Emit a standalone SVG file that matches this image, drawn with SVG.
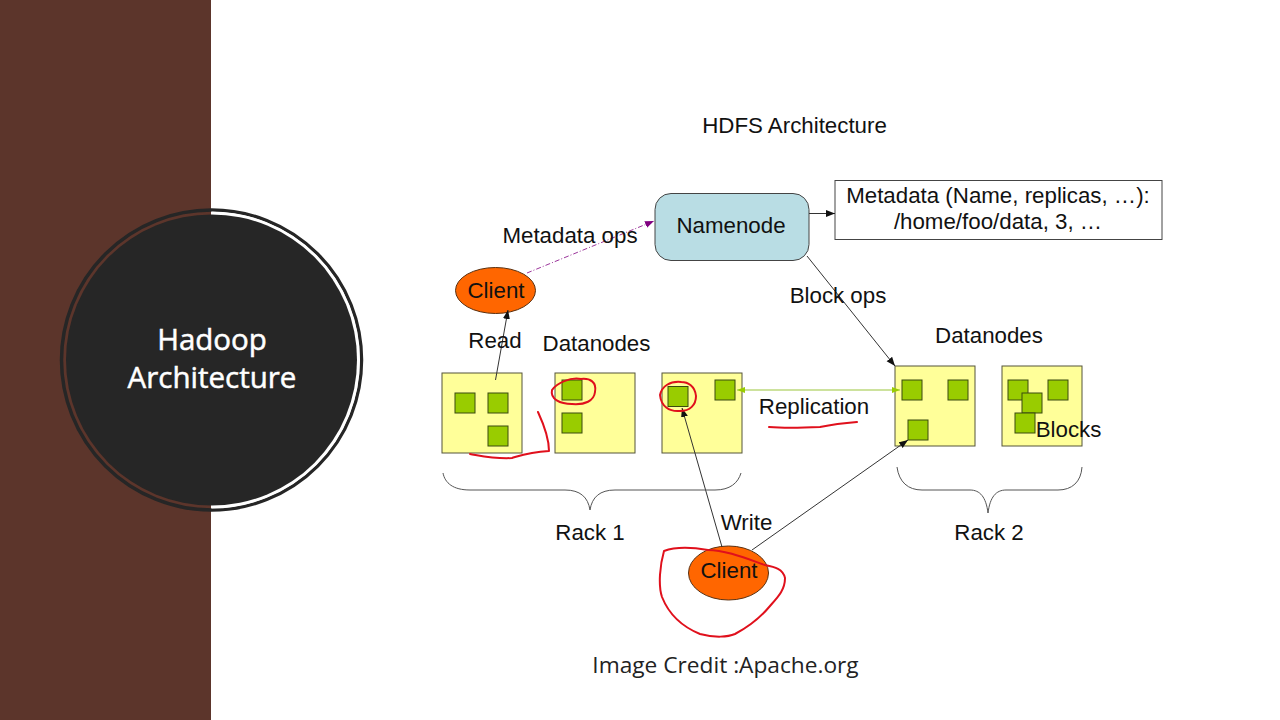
<svg xmlns="http://www.w3.org/2000/svg" width="1280" height="720" viewBox="0 0 1280 720">
<style>
.t{font-family:"Liberation Sans",Arial,sans-serif;font-size:22.300px;fill:#111;text-anchor:middle}
.dn{fill:#ffff99;stroke:#55553a;stroke-width:1}
.b{fill:#99cc00;stroke:#3a4a10;stroke-width:1}
.c{fill:#ff6600;stroke:#5a3010;stroke-width:1}
.e{fill:none;stroke:#333;stroke-width:1}
.ink{fill:none;stroke:#e0101c;stroke-width:2;stroke-linecap:round;stroke-linejoin:round}
.br{fill:none;stroke:#555;stroke-width:1}
.o{font-family:"Open Sans","Noto Sans",sans-serif;text-anchor:middle}
</style>
<defs>
<marker id="ab" markerWidth="10" markerHeight="8" refX="9" refY="3.500" orient="auto" markerUnits="userSpaceOnUse"><path d="M0 0L9 3.500L0 7Z" fill="#111"/></marker>
<marker id="ap" markerWidth="10" markerHeight="8" refX="9" refY="3.500" orient="auto" markerUnits="userSpaceOnUse"><path d="M0 0L9 3.500L0 7Z" fill="#800080"/></marker>
<marker id="ag" markerWidth="9" markerHeight="7" refX="8" refY="3" orient="auto-start-reverse" markerUnits="userSpaceOnUse"><path d="M0 0L8 3L0 6Z" fill="#99cc00"/></marker>
</defs>
<rect width="1280" height="720" fill="#fff"/>
<rect id="sidebar" width="211" height="720" fill="#5c352b"/>
<g id="badge">
<circle cx="211.500" cy="360" r="150" fill="none" stroke="#262626" stroke-width="3.500"/>
<path d="M211.500 213A147 147 0 0 1 211.500 507" fill="none" stroke="#fff" stroke-width="3"/>
<circle cx="211.500" cy="360" r="145.500" fill="#262626"/>
<text class="o" x="212" y="350" font-size="29.500" fill="#fff" stroke="#fff" stroke-width="0.500">Hadoop</text>
<text class="o" x="212" y="388" font-size="29.500" fill="#fff" stroke="#fff" stroke-width="0.500">Architecture</text>
</g>
<text id="title" class="t" x="794.500" y="133">HDFS Architecture</text>
<g id="namenode"><rect x="655" y="193.500" width="154" height="67" rx="16" fill="#b9dde4" stroke="#444"/><text class="t" x="731" y="233">Namenode</text></g>
<g id="metadata"><rect x="835" y="180.500" width="327" height="59" fill="#fff" stroke="#444"/><text class="t" x="998" y="203">Metadata (Name, replicas, …):</text><text class="t" x="998" y="229">/home/foo/data, 3, …</text></g>
<g id="client-read"><ellipse class="c" cx="495.500" cy="290.500" rx="40" ry="23"/><text class="t" x="496" y="298">Client</text></g>
<g id="client-write"><ellipse class="c" cx="728.500" cy="573" rx="40" ry="27"/><text class="t" x="729" y="578">Client</text></g>
<g id="dn1"><rect class="dn" x="442" y="373" width="80" height="80"/><rect class="b" x="455" y="393" width="20" height="20"/><rect class="b" x="488" y="393" width="20" height="20"/><rect class="b" x="488" y="426" width="20" height="20"/></g>
<g id="dn2"><rect class="dn" x="555" y="373" width="80" height="80"/><rect class="b" x="562" y="380" width="20" height="20"/><rect class="b" x="562" y="413" width="20" height="20"/></g>
<g id="dn3"><rect class="dn" x="662" y="373" width="80" height="80"/><rect class="b" x="668" y="386.500" width="20" height="20"/><rect class="b" x="715" y="380" width="20" height="20"/></g>
<g id="dn4"><rect class="dn" x="895" y="366" width="80" height="80"/><rect class="b" x="902" y="380" width="20" height="20"/><rect class="b" x="948" y="380" width="20" height="20"/><rect class="b" x="908" y="420" width="20" height="20"/></g>
<g id="dn5"><rect class="dn" x="1002" y="366" width="80" height="80"/><rect class="b" x="1008" y="380" width="20" height="20"/><rect class="b" x="1048" y="380" width="20" height="20"/><rect class="b" x="1022" y="393" width="20" height="20"/><rect class="b" x="1015" y="413" width="20" height="20"/></g>
<g id="connectors">
<path class="e" d="M495.500 380L508 310" marker-end="url(#ab)"/>
<path d="M527 273L654 221" fill="none" stroke="#800080" stroke-width="0.800" stroke-dasharray="5 2 1 2" marker-end="url(#ap)"/>
<path class="e" d="M809 213.500L835 213.500" marker-end="url(#ab)"/>
<path class="e" d="M807 256L895 366" marker-end="url(#ab)"/>
<path d="M737 390L900 390" fill="none" stroke="#bcd97c" stroke-width="1.500" marker-start="url(#ag)" marker-end="url(#ag)"/>
<path class="e" d="M722 547L682 408" marker-end="url(#ab)"/>
<path class="e" d="M752 550L908 440" marker-end="url(#ab)"/>
</g>
<g id="braces">
<path class="br" d="M443 473C445 483 453 490 470 490L565 490C580 490 588 497 590 510C592 497 600 490 615 490L715 490C730 490 738 483 741 473"/>
<path class="br" d="M897 467C899 482 908 490 922 490L970 490C980 490 986 497 988 513C990 497 996 490 1006 490L1058 490C1072 490 1081 482 1082 467"/>
</g>
<g id="labels">
<text class="t" x="570" y="243">Metadata ops</text>
<text class="t" x="495" y="348">Read</text>
<text class="t" x="596.500" y="351">Datanodes</text>
<text class="t" x="838" y="303">Block ops</text>
<text class="t" x="989" y="343">Datanodes</text>
<text class="t" x="814" y="414">Replication</text>
<text class="t" x="1068.500" y="437">Blocks</text>
<text class="t" x="746.500" y="530">Write</text>
<text class="t" x="590" y="540">Rack 1</text>
<text class="t" x="989" y="540">Rack 2</text>
</g>
<text id="credit" class="o" x="725.500" y="673" font-size="22.700" fill="#222">Image Credit :Apache.org</text>
<g id="annotations">
<path class="ink" d="M470 454C482 456 495 459 512 458C522 455 530 452 549 451C549 440 544 425 538 412"/>
<path class="ink" d="M581 379C570 377 557 383 552 390C550 399 560 404 572 404C585 405 594 401 595 392C597 382 590 378 581 379"/>
<path class="ink" d="M681 382C670 381 662 386 660 395C661 406 669 412 680 411C690 411 696 405 696 396C695 386 688 382 681 382"/>
<path class="ink" d="M769 427C780 428 800 428 820 427C835 424 845 423 857 422"/>
<path class="ink" d="M708 550C690 547 675 547 664 551C660 565 658 585 662 597C668 612 678 625 700 634C715 638 728 637 735 634C750 626 760 618 770 606C778 597 785 590 785 578C783 569 775 567 765 565C745 558 725 550 708 550"/>
</g>
</svg>
